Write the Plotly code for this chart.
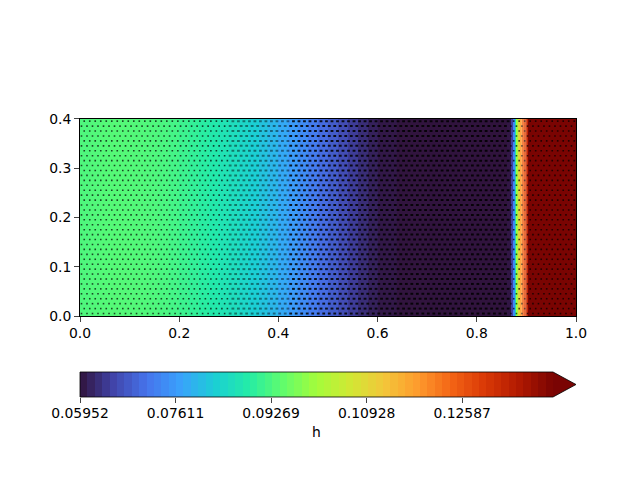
# Shock tube style field h(x, y) on a triangular mesh, with a horizontal colorbar
import numpy as np
import plotly.graph_objects as go

# station edges along x, and the h value read in each column
x_edges = [0.0, 0.02, 0.04, 0.06, 0.08, 0.10, 0.12, 0.14, 0.16, 0.18, 0.20, 0.22, 0.24, 0.26, 0.28,
           0.30, 0.32, 0.34, 0.36, 0.38, 0.40, 0.42, 0.44, 0.46, 0.48, 0.50, 0.52, 0.54, 0.56, 0.58,
           0.60, 0.64, 0.70, 0.76, 0.82, 0.86, 0.868, 0.872, 0.876, 0.880, 0.884, 0.888, 0.892,
           0.896, 0.900, 0.903, 1.0]
h_values = [0.0930, 0.0933, 0.0935, 0.0936, 0.0935, 0.0934, 0.0932, 0.0930, 0.0926, 0.0920, 0.0912,
            0.0903, 0.0893, 0.0882, 0.0870, 0.0858, 0.0845, 0.0830, 0.0814, 0.0798, 0.0780, 0.0762,
            0.0742, 0.0722, 0.0702, 0.0682, 0.0662, 0.0644, 0.0626, 0.0612, 0.0602, 0.0597, 0.0596,
            0.0596, 0.0596, 0.0600, 0.0650, 0.0740, 0.0860, 0.1000, 0.1100, 0.1180, 0.1240, 0.1280,
            0.1330, 0.1425]
y_edges = [0.0, 0.4]

h_min = 0.05952
h_max = 0.14164
cbar_ticks = [0.05952, 0.07611, 0.09269, 0.10928, 0.12587]
cbar_levels = 64

# mesh nodes, every other row staggered
mesh_dx = 0.0111
mesh_dy = 0.01
mesh_rows = np.arange(0.005, 0.4, mesh_dy)
dot_x, dot_y, dash_x, dash_y, dash_color = [], [], [], [], []
for i, row_y in enumerate(mesh_rows):
    for node in np.arange(0.003 + (i % 2) * mesh_dx / 2, 1.0, mesh_dx):
        # the mesh reads as dashes on the dark side, dots elsewhere
        if 0.30 < node < 0.865:
            dash_x.append(node)
            dash_y.append(row_y)
            dash_color.append("rgba(0,0,0,0.45)" if node < 0.42 else "rgba(0,0,0,0.85)")
        else:
            dot_x.append(node)
            dot_y.append(row_y)

fig = go.Figure()

fig.add_trace(go.Heatmap(
    x=x_edges, y=y_edges, z=[h_values, h_values],
    colorscale="Turbo", zmin=h_min, zmax=h_max, showscale=False, hoverinfo="skip",
))
fig.add_trace(go.Scatter(
    x=dot_x, y=dot_y, mode="markers", showlegend=False, hoverinfo="skip",
    marker=dict(symbol="square", size=1.6, color="rgba(0,0,0,0.7)", line=dict(width=0)),
))
fig.add_trace(go.Scatter(
    x=dash_x, y=dash_y, mode="markers", showlegend=False, hoverinfo="skip",
    marker=dict(symbol="line-ew", size=2, line=dict(width=2, color=dash_color)),
))

# colorbar as a second heatmap, the arrow end is a shape
level_edges = np.linspace(h_min, h_max, cbar_levels + 1)
level_mids = (level_edges[:-1] + level_edges[1:]) / 2
fig.add_trace(go.Heatmap(
    x=level_edges, y=[0, 1], z=[level_mids, level_mids],
    colorscale="Turbo", zmin=h_min, zmax=h_max, showscale=False, hoverinfo="skip",
    xaxis="x2", yaxis="y2",
))

font = dict(family="DejaVu Sans", size=13.9, color="black")
tip_x0, tip_x1 = 553 / 640, 576 / 640
y_lo, y_hi = 83 / 480, 108 / 480
y_mid = (y_lo + y_hi) / 2
fig.add_shape(
    type="path", xref="paper", yref="paper",
    path=f"M {tip_x0} {y_lo} L {tip_x1} {y_mid} L {tip_x0} {y_hi} Z",
    fillcolor="#7a0403", line=dict(width=0),
)
fig.add_shape(
    type="path", xref="paper", yref="paper",
    path=(f"M {tip_x0} {y_hi} L {tip_x1} {y_mid} L {tip_x0} {y_lo} L {80 / 640} {y_lo} "
          f"L {80 / 640} {y_hi} Z"),
    line=dict(color="black", width=0.8),
)
# washed out band on the downstream side of the front
fig.add_shape(
    type="rect", xref="x", yref="y", x0=0.888, x1=0.901, y0=0, y1=0.4,
    fillcolor="rgba(255,255,255,0.2)", line=dict(width=0),
)
fig.add_annotation(
    text="h", xref="paper", yref="paper", x=316 / 640, y=48 / 480, showarrow=False, font=font,
    xanchor="center", yanchor="middle",
)

fig.update_layout(
    width=640, height=480, autosize=False, margin=dict(l=0, r=0, t=0, b=0),
    paper_bgcolor="white", plot_bgcolor="white", font=font, showlegend=False,
    xaxis=dict(
        domain=[80 / 640, 576 / 640], range=[0, 1], tickvals=[0, 0.2, 0.4, 0.6, 0.8, 1.0],
        ticktext=["0.0", "0.2", "0.4", "0.6", "0.8", "1.0"], ticks="outside", ticklen=5, tickwidth=1,
        showline=True, linecolor="black", linewidth=1, mirror=True, showgrid=False, zeroline=False,
        anchor="y", automargin=False, ticklabelstandoff=-1,
    ),
    yaxis=dict(
        domain=[164 / 480, 361.3 / 480], range=[0, 0.4], tickvals=[0, 0.1, 0.2, 0.3, 0.4],
        ticktext=["0.0", "0.1", "0.2", "0.3", "0.4"], ticks="outside", ticklen=5, tickwidth=1,
        showline=True, linecolor="black", linewidth=1, mirror=True, showgrid=False, zeroline=False,
        anchor="x", automargin=False,
    ),
    xaxis2=dict(
        domain=[80 / 640, 576 / 640], range=[h_min, h_max + 23 / 95.5 * 0.01659],
        tickvals=cbar_ticks, ticktext=[f"{t:.5f}" for t in cbar_ticks],
        ticks="outside", ticklen=5, tickwidth=1, showgrid=False, zeroline=False, anchor="y2",
        automargin=False, ticklabelstandoff=-2,
    ),
    yaxis2=dict(
        domain=[83 / 480, 108 / 480], range=[0, 1], showticklabels=False, ticks="",
        showgrid=False, zeroline=False, anchor="x2", automargin=False,
    ),
)

fig.write_html("out.html", config=dict(displayModeBar=False),
               post_script="document.body.style.margin='0';")
